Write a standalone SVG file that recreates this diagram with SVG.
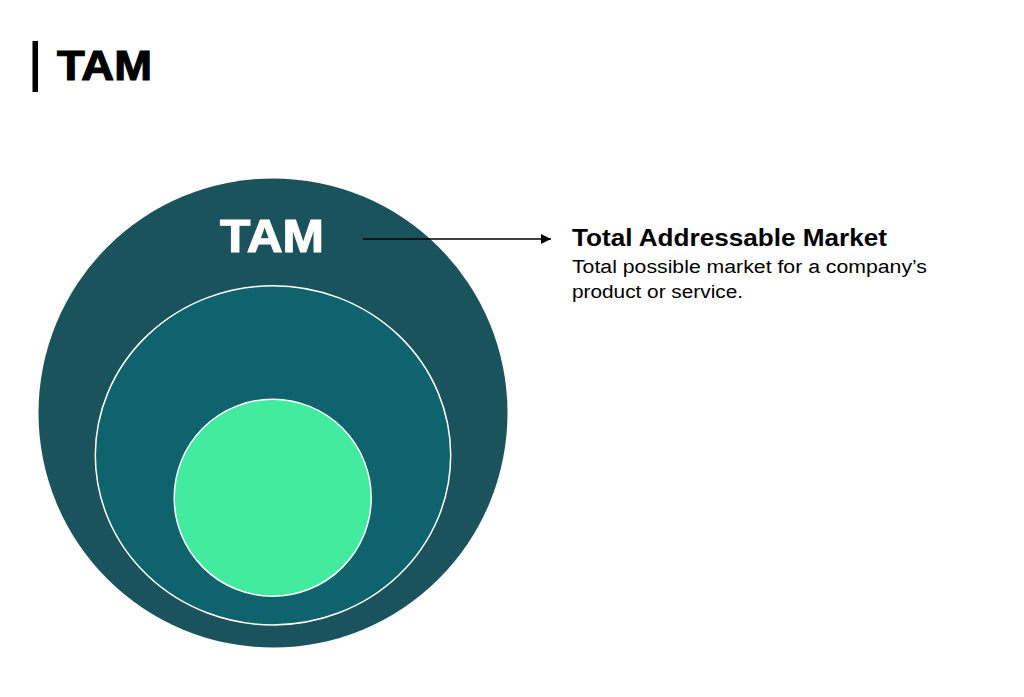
<svg xmlns="http://www.w3.org/2000/svg" width="1024" height="697" viewBox="0 0 1024 697">
<style>
.sans{font-family:"Liberation Sans","Noto Sans",Arial,sans-serif}
.hd{font-weight:bold;fill:#000}
.ring{stroke:#ffffff;stroke-width:1.5}
</style>
<defs>
<marker id="ah" viewBox="0 0 10 10" refX="10" refY="5" markerWidth="10" markerHeight="10" markerUnits="userSpaceOnUse" orient="auto">
<path d="M0,0 L10,5 L0,10 Z" fill="#000"/>
</marker>
</defs>
<rect width="1024" height="697" fill="#ffffff"/>
<g id="header">
<rect x="32.5" y="41" width="5.5" height="51" fill="#000"/>
<text class="sans hd" x="57" y="80" font-size="43" stroke="#000" stroke-width="1.2" textLength="95" lengthAdjust="spacingAndGlyphs">TAM</text>
</g>
<g id="tam">
<circle cx="273" cy="413" r="234.5" fill="#1a535c"/>
<text class="sans" x="272" y="252" font-size="47" font-weight="bold" fill="#ffffff" stroke="#ffffff" stroke-width="1.2" text-anchor="middle" textLength="104" lengthAdjust="spacingAndGlyphs">TAM</text>
</g>
<g id="sam">
<ellipse class="ring" cx="273" cy="455.3" rx="177.7" ry="169.6" fill="#0e636d"/>
</g>
<g id="som">
<circle class="ring" cx="272.7" cy="497.7" r="98.5" fill="#43eba0"/>
</g>
<g id="connectors">
<line x1="363" y1="239" x2="551" y2="239" stroke="#000" stroke-width="1.3" marker-end="url(#ah)"/>
</g>
<g id="desc">
<text class="sans" x="572" y="246" font-size="23" font-weight="bold" fill="#000" textLength="315" lengthAdjust="spacingAndGlyphs">Total Addressable Market</text>
<text class="sans" x="572" y="273" font-size="18" fill="#000" textLength="355" lengthAdjust="spacingAndGlyphs">Total possible market for a company’s</text>
<text class="sans" x="572" y="298" font-size="18" fill="#000" textLength="171" lengthAdjust="spacingAndGlyphs">product or service.</text>
</g>
</svg>
